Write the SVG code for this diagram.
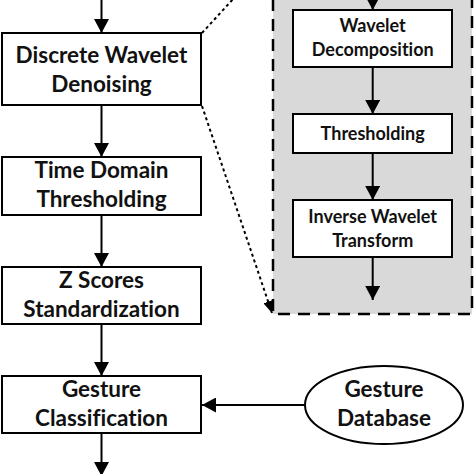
<svg xmlns="http://www.w3.org/2000/svg" width="474" height="474" viewBox="0 0 474 474">
<defs>
<style>
.box{fill:#fff;stroke:#000;stroke-width:2}
.t{font-family:Lato,"Open Sans","Liberation Sans",sans-serif;font-weight:700;font-size:22.5px;text-anchor:middle;fill:#111;font-variant-ligatures:none}
.ts{font-family:Lato,"Open Sans","Liberation Sans",sans-serif;font-weight:700;font-size:18px;text-anchor:middle;fill:#111;font-variant-ligatures:none}
.ln{stroke:#000;stroke-width:2;fill:none}
.dot{stroke:#000;stroke-width:2;fill:none;stroke-dasharray:3 3}
</style>
<marker id="ah" viewBox="0 0 14 15" refX="14" refY="7.5" markerWidth="14" markerHeight="15" markerUnits="userSpaceOnUse" orient="auto">
<path d="M0,0 L14,7.5 L0,15 Z" fill="#000"/>
</marker>
<marker id="ahs" viewBox="0 0 12 10" refX="12" refY="5" markerWidth="12" markerHeight="10" markerUnits="userSpaceOnUse" orient="auto">
<path d="M0,0 L12,5 L0,10 Z" fill="#000"/>
</marker>
</defs>
<rect width="474" height="474" fill="#fff"/>
<g id="container">
<rect x="273" y="-5" width="199" height="319" fill="#d9d9d9" stroke="#000" stroke-width="2.5" stroke-dasharray="12 8"/>
</g>
<g id="connectors">
<line class="ln" x1="101.5" y1="0" x2="101.5" y2="33" marker-end="url(#ah)"/>
<line class="ln" x1="101.5" y1="105" x2="101.5" y2="157" marker-end="url(#ah)"/>
<line class="ln" x1="101.5" y1="215" x2="101.5" y2="267" marker-end="url(#ah)"/>
<line class="ln" x1="101.5" y1="324" x2="101.5" y2="376" marker-end="url(#ah)"/>
<line class="ln" x1="101.5" y1="433" x2="101.5" y2="476" marker-end="url(#ah)"/>
<line class="ln" x1="305" y1="405" x2="202" y2="405" marker-end="url(#ah)"/>
<line class="ln" x1="372.7" y1="-5" x2="372.7" y2="10" marker-end="url(#ah)"/>
<line class="ln" x1="372.7" y1="67" x2="372.7" y2="114" marker-end="url(#ah)"/>
<line class="ln" x1="372.7" y1="153" x2="372.7" y2="200" marker-end="url(#ah)"/>
<line class="ln" x1="372.7" y1="257" x2="372.7" y2="300" marker-end="url(#ah)"/>
<line class="dot" x1="202" y1="33" x2="234" y2="-2"/>
<line class="dot" x1="202" y1="106" x2="272" y2="313" marker-end="url(#ahs)"/>
</g>
<g id="dwd">
<rect class="box" x="2" y="33" width="199" height="72"/>
<text class="t" x="101.5" y="63">Discrete Wavelet</text>
<text class="t" x="101.5" y="92">Denoising</text>
</g>
<g id="tdt">
<rect class="box" x="2" y="157" width="199" height="58"/>
<text class="t" x="101.5" y="178">Time Domain</text>
<text class="t" x="101.5" y="207">Thresholding</text>
</g>
<g id="zss">
<rect class="box" x="2" y="267" width="199" height="57"/>
<text class="t" x="101.5" y="288">Z Scores</text>
<text class="t" x="101.5" y="317">Standardization</text>
</g>
<g id="gc">
<rect class="box" x="2" y="376" width="199" height="57"/>
<text class="t" x="101.5" y="397">Gesture</text>
<text class="t" x="101.5" y="426">Classification</text>
</g>
<g id="gd">
<ellipse cx="384" cy="405" rx="79" ry="39" fill="#fff" stroke="#000" stroke-width="2"/>
<text class="t" x="384" y="397">Gesture</text>
<text class="t" x="384" y="426">Database</text>
</g>
<g id="wd">
<rect class="box" x="293" y="10" width="159" height="57"/>
<text class="ts" x="372.7" y="32">Wavelet</text>
<text class="ts" x="372.7" y="56">Decomposition</text>
</g>
<g id="th">
<rect class="box" x="293" y="114" width="159" height="39"/>
<text class="ts" x="372.7" y="140">Thresholding</text>
</g>
<g id="iwt">
<rect class="box" x="293" y="200" width="159" height="57"/>
<text class="ts" x="372.7" y="223">Inverse Wavelet</text>
<text class="ts" x="372.7" y="247">Transform</text>
</g>
</svg>
